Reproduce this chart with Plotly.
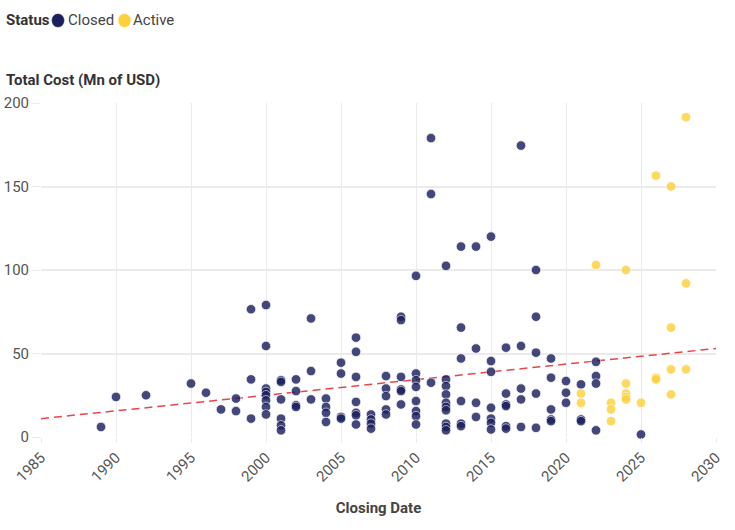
import plotly.graph_objects as go

# ---- data ----
closed_years = [1989, 1990, 1992, 1995, 1996, 1997, 1998, 1998,
                1999, 1999, 1999,
                2000, 2000, 2000, 2000, 2000, 2000, 2000, 2000,
                2001, 2001, 2001, 2001, 2001, 2001,
                2002, 2002, 2002, 2002,
                2003, 2003, 2003,
                2004, 2004, 2004, 2004,
                2005, 2005, 2005, 2005,
                2006, 2006, 2006, 2006, 2006, 2006, 2006,
                2007, 2007, 2007, 2007,
                2008, 2008, 2008, 2008, 2008,
                2009, 2009, 2009, 2009, 2009, 2009,
                2010, 2010, 2010, 2010, 2010, 2010, 2010, 2010,
                2011, 2011, 2011,
                2012, 2012, 2012, 2012, 2012, 2012, 2012, 2012, 2012, 2012,
                2013, 2013, 2013, 2013, 2013, 2013,
                2014, 2014, 2014, 2014,
                2015, 2015, 2015, 2015, 2015, 2015, 2015,
                2016, 2016, 2016, 2016, 2016, 2016,
                2017, 2017, 2017, 2017, 2017,
                2018, 2018, 2018, 2018, 2018,
                2019, 2019, 2019, 2019, 2019,
                2020, 2020, 2020,
                2021, 2021, 2021,
                2022, 2022, 2022, 2022,
                2025]
closed_cost = [6, 24, 25, 32, 26.5, 16.5, 23, 15.5,
               76.5, 34.5, 11,
               79, 54.5, 29, 27, 25, 22, 18, 13.5,
               34, 33, 22.5, 11, 7, 4,
               34.5, 27.5, 19, 18,
               71, 39.5, 22.5,
               23, 18, 14.5, 9,
               44.5, 38, 12, 11,
               59.5, 51, 36, 21, 14.5, 13, 7.5,
               13.5, 10.5, 8, 5,
               36.5, 29, 24.5, 16.5, 13.5,
               72, 70, 36, 28.5, 27.5, 19.5,
               96.5, 38, 34, 30, 21.5, 15.5, 12.5, 7.5,
               179, 145.5, 32.5,
               102.5, 34.5, 30.5, 25.5, 20.5, 18, 16, 8, 6, 4,
               114, 65.5, 47, 21.5, 8, 6.5,
               114, 53, 20.5, 12,
               120, 45.5, 39, 17.5, 11, 8.5, 4.5,
               53.5, 26, 19.5, 18.5, 6.5, 5,
               174.5, 54.5, 29, 22.5, 6,
               100, 72, 50.5, 26, 5.5,
               47, 35.5, 16.5, 10.5, 9.5,
               33.5, 26.5, 20.5,
               31.5, 10.5, 9.5,
               45, 36.5, 32, 4,
               1.5]

active_years = [2021, 2021, 2022, 2023, 2023, 2023,
                2024, 2024, 2024, 2024, 2024, 2025,
                2026, 2026, 2026, 2027, 2027, 2027, 2027,
                2028, 2028, 2028]
active_cost = [26, 20.5, 103, 20.5, 16.5, 9.5,
               100, 32, 26, 24, 22.5, 20.5,
               156.5, 35.5, 34.5, 150, 65.5, 40.5, 25.5,
               191.5, 92, 40.5]

trend_years = [1985, 2030]
trend_cost = [11, 53]

x_ticks = [1985, 1990, 1995, 2000, 2005, 2010, 2015, 2020, 2025, 2030]
y_ticks = [0, 50, 100, 150, 200]

status_names = ["Closed", "Active"]
status_colors = ["#1b1f5e", "#fdd13b"]
FONT = "Roboto"

W, H = 735, 530
ML, MR, MT, MB = 41, 19, 103, 93
PW, PH = W - ML - MR, H - MT - MB


def px_to_paper(xp, yp):
    return (xp - ML) / PW, (H - MB - yp) / PH


fig = go.Figure()

fig.add_trace(go.Scatter(
    x=trend_years, y=trend_cost, mode="lines",
    line=dict(color="#e8454a", width=1.5, dash="8px,5px"),
    showlegend=False, hoverinfo="skip"))

for name, color, xs, ys in [("Closed", status_colors[0], closed_years, closed_cost),
                            ("Active", status_colors[1], active_years, active_cost)]:
    fig.add_trace(go.Scatter(
        x=xs, y=ys, mode="markers", name=name,
        marker=dict(color=color, size=9.5, opacity=0.82,
                    line=dict(color="white", width=0.7)),
        showlegend=False, cliponaxis=False))

fig.update_layout(
    width=W, height=H,
    margin=dict(l=ML, r=MR, t=MT, b=MB, autoexpand=False),
    paper_bgcolor="white", plot_bgcolor="white",
    font=dict(family=FONT, size=15, color="#555"),
    showlegend=False,
)

fig.update_xaxes(
    range=[1985, 2030], tickvals=x_ticks, ticktext=[str(v) for v in x_ticks],
    tickangle=-45, showgrid=True, gridcolor="#ebebeb", gridwidth=1,
    zeroline=False, showline=False, automargin=False,
    ticks="outside", ticklen=5, tickcolor="#ebebeb",
    tickfont=dict(size=15, color="#555"),
    title=dict(text="<b>Closing Date</b>", font=dict(size=15, color="#444"), standoff=18),
)
fig.update_yaxes(
    range=[0, 200], tickvals=y_ticks, showgrid=True, gridcolor="#ebebeb",
    gridwidth=1.5, zeroline=False, showline=False, automargin=False,
    ticks="outside", ticklen=8, tickcolor="#ebebeb",
    tickfont=dict(size=15, color="#555"),
)

# y-axis title (horizontal, above the plot)
ax, ay = px_to_paper(4, 80)
fig.add_annotation(
    text="<b>Total Cost (Mn of USD)</b>", xref="paper", yref="paper",
    x=ax, y=ay, xanchor="left", yanchor="middle",
    showarrow=False, font=dict(size=15, color="#333"))

# legend drawn at the top-left
lx, ly = px_to_paper(4, 20)
fig.add_annotation(text="<b>Status</b>", xref="paper", yref="paper",
                   x=lx, y=ly, xanchor="left", yanchor="middle",
                   showarrow=False, font=dict(size=15, color="#333"))
legend_circle_x = [58, 124.5]
legend_text_x = [66, 131]
for name, color, cx, tx in zip(status_names, status_colors, legend_circle_x, legend_text_x):
    pcx, pcy = px_to_paper(cx, 20.5)
    fig.add_shape(type="circle", xref="paper", yref="paper",
                  xsizemode="pixel", ysizemode="pixel",
                  xanchor=pcx, yanchor=pcy, x0=-6.5, x1=6.5, y0=-7, y1=7,
                  fillcolor=color, line=dict(color="white", width=0.5))
    ptx, pty = px_to_paper(tx, 20)
    fig.add_annotation(text=name, xref="paper", yref="paper",
                       x=ptx, y=pty, xanchor="left", yanchor="middle",
                       showarrow=False, font=dict(size=15, color="#444"))

fig.write_html("out.html")
